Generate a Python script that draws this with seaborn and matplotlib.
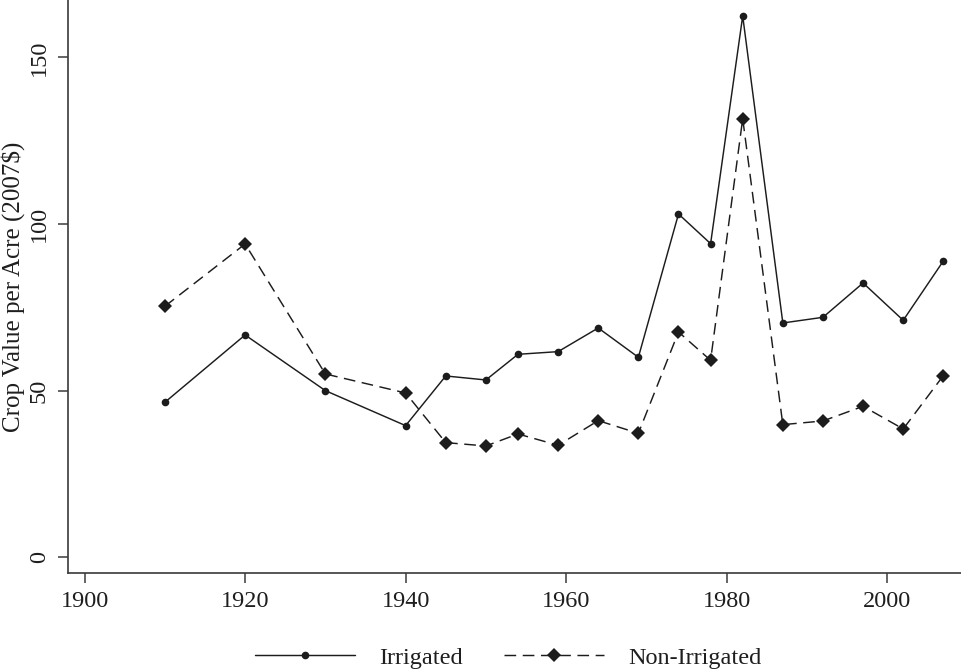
"""Crop value per acre, irrigated vs non-irrigated farms."""

import matplotlib
matplotlib.use("Agg")
import matplotlib.pyplot as plt
import pandas as pd
import seaborn as sns


YEARS = [1910, 1920, 1930, 1940, 1945, 1950, 1954, 1959, 1964, 1969,
         1974, 1978, 1982, 1987, 1992, 1997, 2002, 2007]
IRRIGATED = [46.5, 66.7, 50.0, 39.5, 54.4, 53.2, 60.9, 61.7, 68.8, 60.0,
             103.0, 94.1, 162.4, 70.3, 72.0, 82.3, 71.1, 88.9]
NON_IRRIGATED = [75.3, 94.0, 55.0, 49.3, 34.4, 33.4, 37.0, 33.6, 41.0, 37.2,
                 67.6, 59.1, 131.6, 39.8, 40.9, 45.3, 38.5, 54.5]
SERIES_NAMES = ["Irrigated", "Non-Irrigated"]
X_TICKS = [1900, 1920, 1940, 1960, 1980, 2000]
Y_TICKS = [0, 50, 100, 150]
Y_LABEL = "Crop Value per Acre (2007$)"

LINE_COLOR = "#1c1c1c"
AXIS_COLOR = "#3a3a3a"
TEXT_COLOR = "#1e1e1e"

df = pd.DataFrame({
	"Year": YEARS * 2,
	"Value": IRRIGATED + NON_IRRIGATED,
	"Type": [SERIES_NAMES[0]] * len(YEARS) + [SERIES_NAMES[1]] * len(YEARS),
})

sns.set_style("white")
plt.rcParams["font.family"] = ["Liberation Serif", "DejaVu Serif"]
plt.rcParams["font.size"] = 17

fig = plt.figure(figsize=(9.61, 6.72), dpi=100)
ax = fig.add_axes([0.0705, 0.1469, 0.9295, 0.8531])

sns.lineplot(
	data=df, x="Year", y="Value", hue="Type", style="Type",
	palette={SERIES_NAMES[0]: LINE_COLOR, SERIES_NAMES[1]: LINE_COLOR},
	markers={SERIES_NAMES[0]: "o", SERIES_NAMES[1]: "D"},
	dashes={SERIES_NAMES[0]: "", SERIES_NAMES[1]: (8, 4.5)},
	linewidth=1.05, markeredgewidth=0, ax=ax, legend=False,
)
# marker sizes differ per series
for line, ms in zip(ax.lines, [5.5, 6.8]):
	line.set_markersize(ms)

ax.set_xlim(1897.9, 2009.2)
ax.set_ylim(-4.8, 167.2)
ax.set_xticks(X_TICKS)
ax.set_yticks(Y_TICKS)
ax.set_xlabel("")
ax.set_ylabel(Y_LABEL, color=TEXT_COLOR, fontsize=18)
ax.yaxis.set_label_coords(-0.048, 0.5)

for side in ["top", "right"]:
	ax.spines[side].set_visible(False)
for side in ["left", "bottom"]:
	ax.spines[side].set_color(AXIS_COLOR)
	ax.spines[side].set_linewidth(1.2)

ax.tick_params(axis="both", direction="out", length=7, width=1.1,
	color=AXIS_COLOR, labelcolor=TEXT_COLOR, labelsize=17.5, pad=6, left=True, bottom=True)
for lbl in ax.get_yticklabels():
	lbl.set_rotation(90)
	lbl.set_va("center")

handles = [
	plt.Line2D([], [], color=LINE_COLOR, lw=1.05, marker="o", ms=5.5, mew=0),
	plt.Line2D([], [], color=LINE_COLOR, lw=1.05, marker="D", ms=6.8, mew=0, dashes=(8, 4.5)),
]
fig.legend(handles, SERIES_NAMES, loc="center", bbox_to_anchor=(0.529, 0.021),
	ncol=2, frameon=False, fontsize=17.5, handlelength=4.1, handletextpad=1.0,
	columnspacing=1.7, labelcolor=TEXT_COLOR)

fig.savefig("out.png", dpi=100)
plt.close(fig)
